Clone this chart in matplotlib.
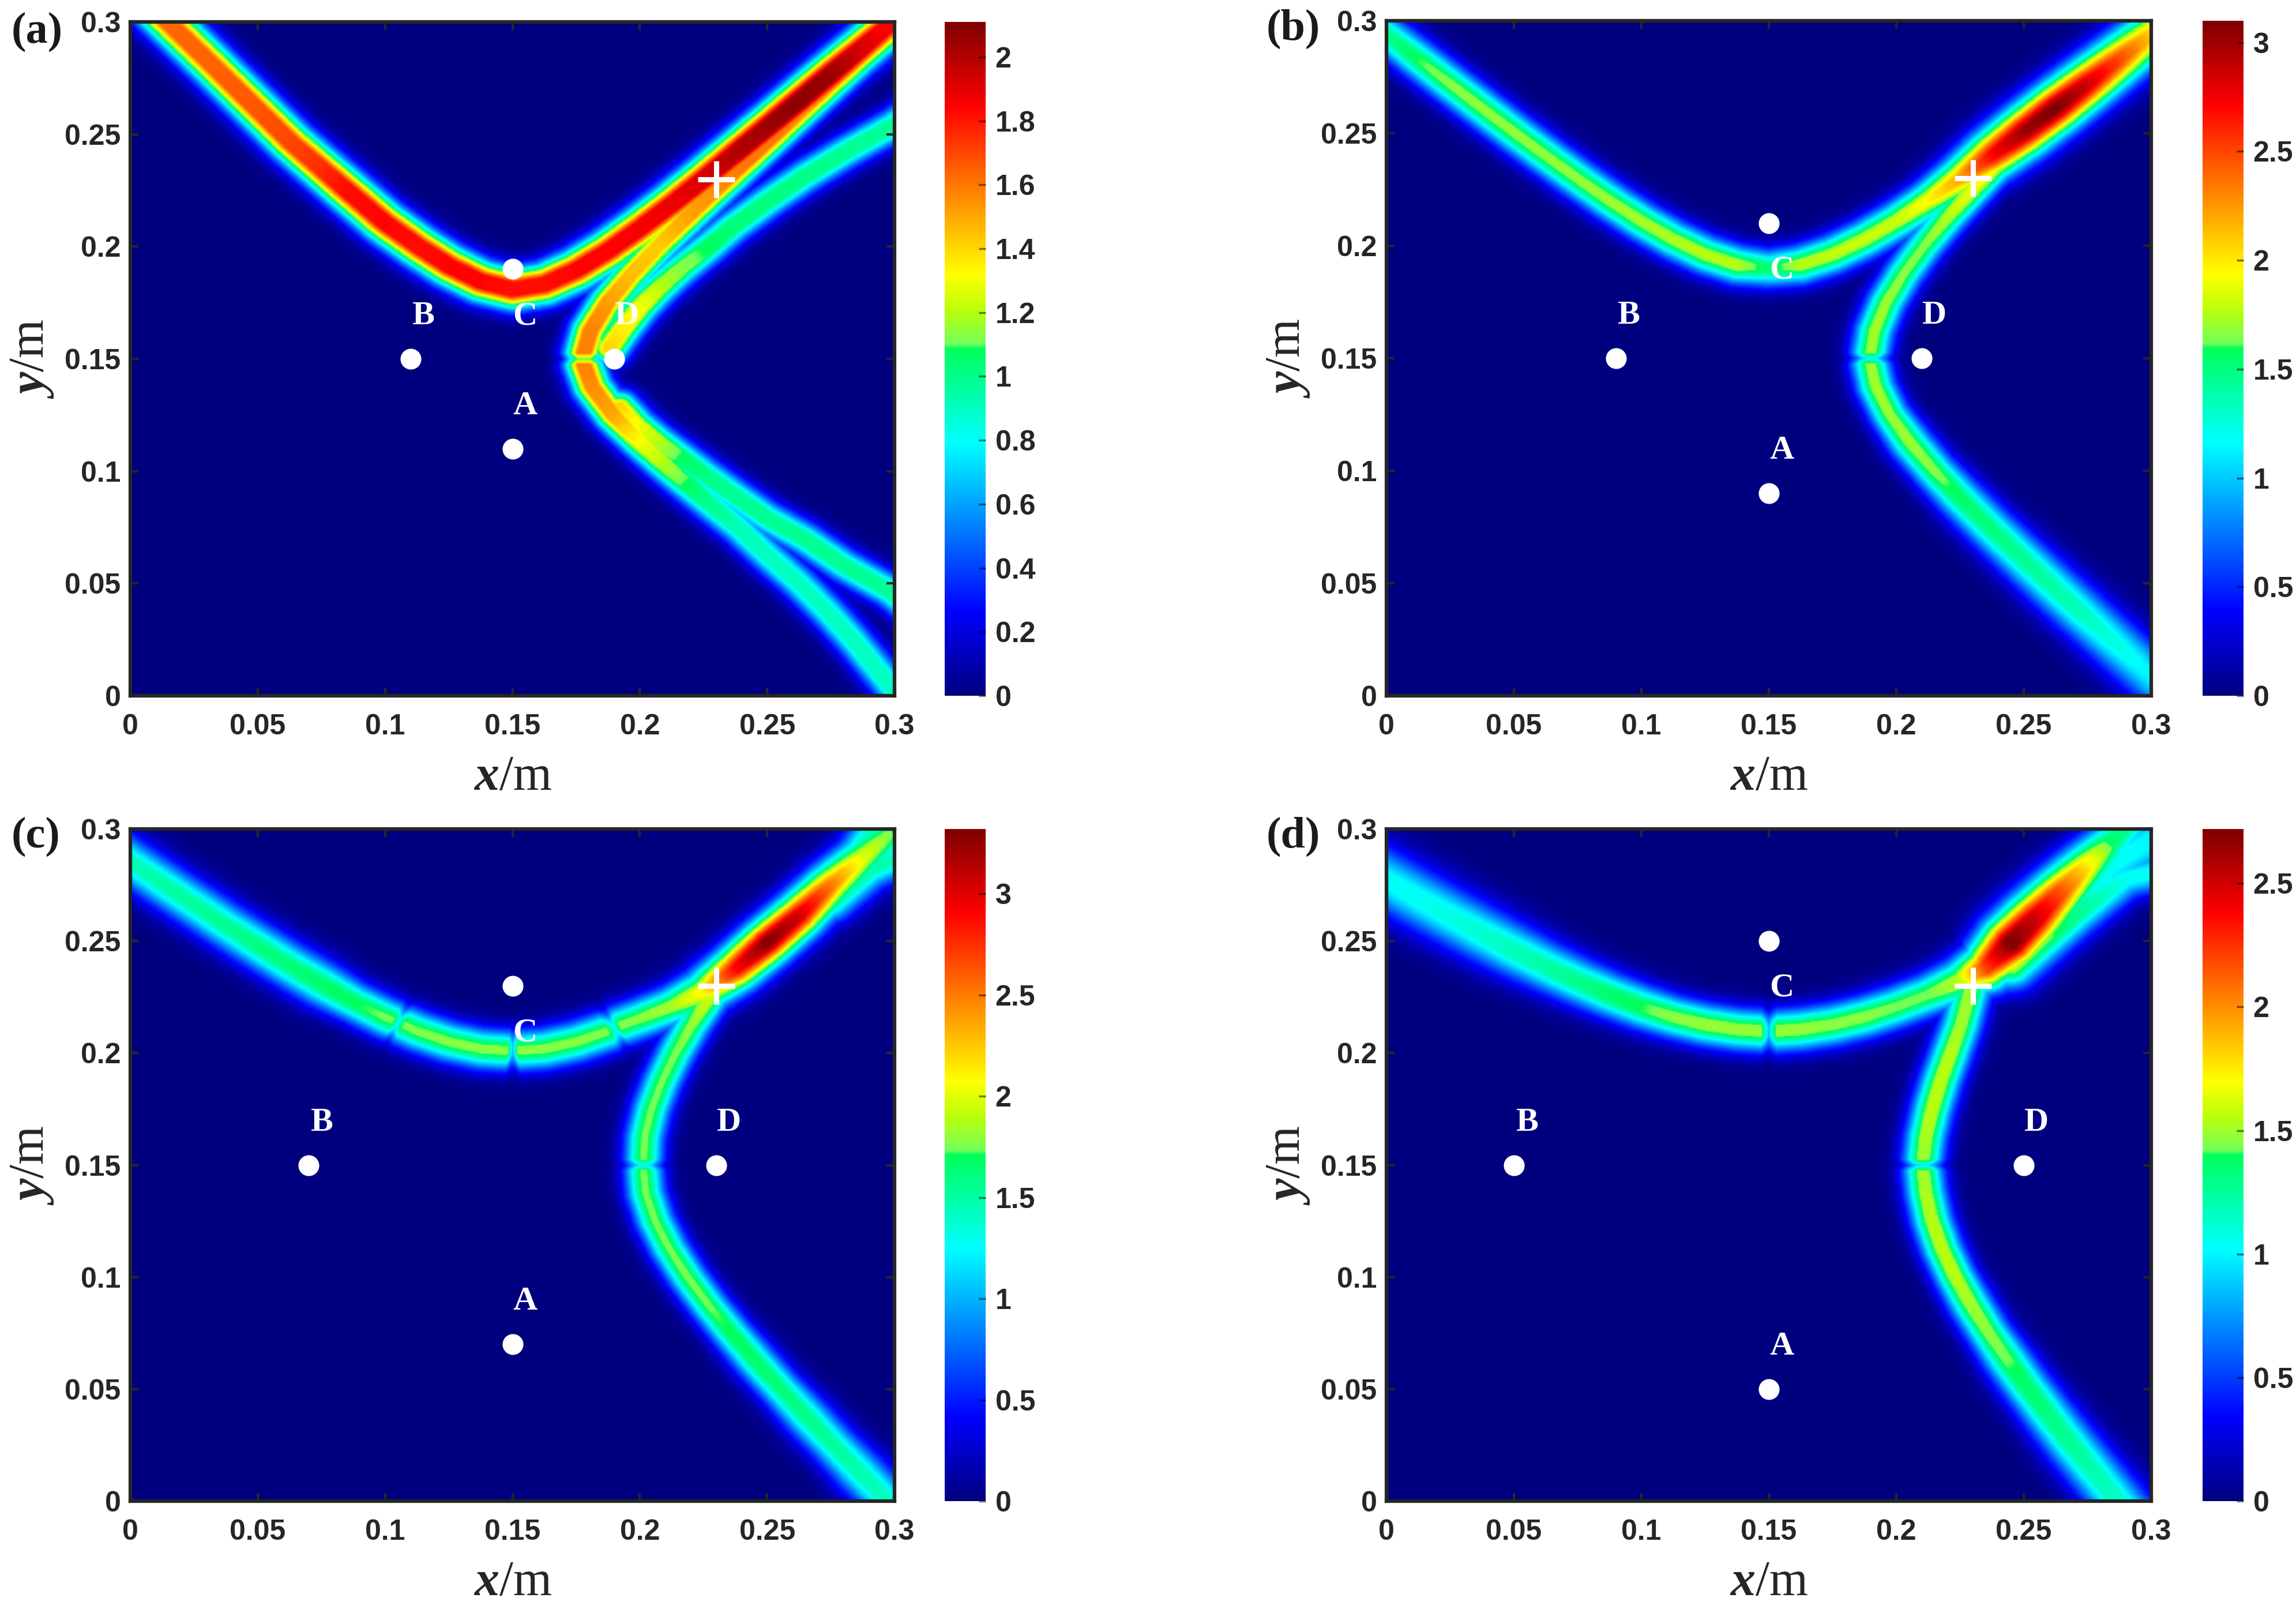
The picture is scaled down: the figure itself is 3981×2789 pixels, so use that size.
import numpy as np
import matplotlib
matplotlib.use('Agg')
import matplotlib.pyplot as plt
from matplotlib.colors import LinearSegmentedColormap

plt.rcParams['font.family'] = ['Liberation Sans', 'DejaVu Sans']
plt.rcParams['mathtext.fontset'] = 'custom'
plt.rcParams['mathtext.bfit'] = 'Liberation Serif:italic:bold'
plt.rcParams['mathtext.rm'] = 'Liberation Serif'

# ridge lines: x, y, peak value and band half width
# panel (a)
a_main_x = [.005, .0147, .03, .045, .0627, .0725, .0845, .0996, .1132, .125, .1375, .15, .1625, .175, .1875, .2, .2125, .225, .2375, .25, .2625, .275, .2875, .3, .31]
a_main_y = [.311, .3, .2832, .2665, .2468, .2372, .2255, .2109, .2, .1915, .1845, .181, .1833, .1896, .1982, .2082, .2189, .2301, .2416, .2532, .265, .277, .2889, .3009, .3105]
a_main_v = [1.63, 1.63, 1.64, 1.66, 1.7, 1.74, 1.82, 1.84, 1.82, 1.84, 1.84, 1.82, 1.82, 1.84, 1.84, 1.86, 1.88, 1.92, 2.0, 2.04, 2.08, 2.05, 1.92, 1.82, 1.82]
a_vert_x = [.31, .3012, .289, .2768, .2648, .2529, .241, .2293, .2179, .2068, .1965, .1873, .1805, .178, .178, .178, .1812, .1895, .2004, .2125, .2252, .2384, .25, .2625, .2735, .2835, .2925, .3015, .308]
a_vert_y = [.31, .3, .2875, .275, .2625, .25, .2375, .225, .2125, .2, .1875, .175, .1625, .1525, .15, .1475, .1375, .125, .1125, .1, .0875, .075, .0625, .05, .0375, .025, .0125, 0, -.01]
a_vert_v = [1.5, 1.5, 1.5, 1.55, 1.55, 1.6, 1.6, 1.55, 1.5, 1.42, 1.45, 1.52, 1.58, 1.58, 1.1, 1.58, 1.55, 1.5, 1.3, 1.15, 1.0, .92, .9, .9, .9, .9, .9, .9, .9]
a_up_x = [.31, .2995, .282, .265, .25, .236, .226, .216, .208, .2, .193, .188]
a_up_y = [.262, .254, .243, .2315, .22, .2085, .199, .19, .182, .173, .163, .155]
a_up_v = [.98, .98, .98, 1.0, 1.02, 1.03, 1.08, 1.13, 1.2, 1.3, 1.35, 1.4]
a_low_x = [.31, .298, .28, .265, .25, .236, .226, .216, .207, .199, .192]
a_low_y = [.036, .0466, .058, .0695, .079, .09, .098, .106, .113, .12, .128]
a_low_v = [.98, .98, .98, .98, .98, .98, 1.0, 1.08, 1.2, 1.3, 1.4]

# panel (b)
b_main_x = [-.015, 0, .0125, .025, .0375, .05, .0625, .075, .0875, .1, .1125, .125, .1375, .15, .1625, .175, .1875, .2, .2125, .225, .2375, .25, .2625, .275, .2875, .3, .315]
b_main_y = [.3073, .294, .2829, .272, .2612, .2505, .2401, .2299, .2201, .211, .2029, .1962, .1916, .19, .1916, .1962, .2029, .211, .2201, .2299, .2401, .2505, .2612, .272, .2829, .294, .3073]
b_main_v = [1.4, 1.45, 1.6, 1.66, 1.68, 1.68, 1.68, 1.68, 1.7, 1.72, 1.74, 1.76, 1.76, 1.5, 1.76, 1.78, 1.8, 1.8, 1.95, 2.2, 2.7, 3.0, 3.1, 2.85, 2.5, 2.1, 2.0]
b_main_s = [.0055] * 19 + [.0062, .007, .0072, .0072, .0072, .0072, .0072, .0072]
b_vert_x = [.2401, .2299, .2201, .211, .2029, .1962, .1916, .19, .19, .19, .192, .1975, .2055, .215, .2255, .2366, .2482, .26, .272, .2842, .2965, .3088]
b_vert_y = [.2375, .225, .2125, .2, .1875, .175, .1625, .1525, .15, .1475, .1375, .125, .1125, .1, .0875, .075, .0625, .05, .0375, .025, .0125, 0]
b_vert_v = [2.0, 1.9, 1.75, 1.65, 1.66, 1.7, 1.72, 1.7, 1.15, 1.7, 1.72, 1.7, 1.7, 1.66, 1.55, 1.5, 1.45, 1.4, 1.35, 1.25, 1.15, 1.1]
b_vert_s = [.005] * 12 + [.0055, .0055, .006, .0062, .0065, .0068, .007, .0072, .0075, .0075]

# panel (c)
c_main_x = [-.015, 0, .0125, .025, .0375, .05, .0625, .075, .0875, .1, .103, .105, .107, .1125, .125, .1375, .148, .15, .152, .1625, .175, .1875, .19, .192, .2, .2125, .225, .2375, .25, .2625, .275, .2875, .3]
c_main_y = [.2972, .2855, .2758, .2664, .257, .248, .2392, .2309, .223, .216, .2146, .2137, .2127, .2099, .2051, .202, .2012, .201, .2012, .202, .2051, .2099, .2112, .2122, .2155, .221, .2275, .2375, .2495, .2615, .2752, .2875, .3]
c_main_v = [1.4, 1.45, 1.5, 1.52, 1.55, 1.6, 1.62, 1.66, 1.7, 1.74, 1.74, 1.25, 1.74, 1.76, 1.78, 1.78, 1.78, 1.0, 1.78, 1.78, 1.78, 1.76, 1.25, 1.76, 1.78, 1.85, 2.1, 2.9, 3.3, 3.05, 2.5, 2.0, 1.7]
c_main_s = [.0065] * 8 + [.0058] * 18 + [.0065] * 7
c_vert_x = [.2305, .2273, .2203, .214, .2087, .2045, .2019, .2015, .2015, .2015, .2023, .206, .2116, .2187, .2269, .2359, .2454, .2554, .2656, .276, .2866, .2974, .3061]
c_vert_y = [.23, .225, .2125, .2, .1875, .175, .1625, .1525, .15, .1475, .1375, .125, .1125, .1, .0875, .075, .0625, .05, .0375, .025, .0125, 0, -.01]
c_vert_v = [2.1, 1.95, 1.8, 1.75, 1.74, 1.74, 1.74, 1.74, 1.2, 1.74, 1.74, 1.74, 1.74, 1.75, 1.74, 1.7, 1.66, 1.62, 1.58, 1.52, 1.48, 1.42, 1.4]
c_vert_s = [.005] * 15 + [.0052, .0055, .0055, .006, .006, .0065, .0065, .0065]
c_top_x = [.275, .285, .292, .296]
c_top_y = [.275, .287, .3, .31]
c_top_v = [1.9, 1.6, 1.4, 1.4]
c_side_x = [.275, .29, .31]
c_side_y = [.268, .282, .292]
c_side_v = [1.6, 1.5, 1.4]

# panel (d)
d_main_x = [-.015, 0, .0125, .025, .0375, .05, .0625, .075, .0875, .1, .1125, .125, .1375, .147, .15, .153, .1625, .175, .1875, .2, .2125, .225, .235, .245, .255, .265, .275, .285, .295]
d_main_y = [.2873, .2773, .2691, .2611, .2534, .2459, .2388, .2322, .2261, .2207, .2162, .2128, .2107, .21, .21, .21, .2107, .2128, .2162, .2207, .2261, .2322, .238, .249, .2605, .2725, .284, .295, .307]
d_main_v = [1.0, 1.03, 1.05, 1.08, 1.12, 1.18, 1.22, 1.28, 1.35, 1.4, 1.46, 1.48, 1.48, 1.48, .85, 1.48, 1.48, 1.46, 1.46, 1.42, 1.42, 1.55, 2.2, 2.72, 2.5, 2.15, 1.75, 1.35, 1.2]
d_main_s = [.0085, .0085, .0085, .0083, .0081, .0077, .0072, .0068, .0065, .0063] + [.006] * 11 + [.0065, .007, .008, .008, .0075, .007, .0065, .006]
d_vert_x = [.2296, .2255, .2215, .2175, .2142, .2117, .2107, .2107, .2107, .2117, .2142, .2181, .2233, .2295, .2364, .244, .252, .2604, .269, .278, .287, .2944]
d_vert_y = [.23, .2125, .2, .1875, .175, .1625, .1525, .15, .1475, .1375, .125, .1125, .1, .0875, .075, .0625, .05, .0375, .025, .0125, 0, -.01]
d_vert_v = [1.5, 1.5, 1.54, 1.55, 1.55, 1.52, 1.5, .95, 1.5, 1.52, 1.54, 1.55, 1.55, 1.5, 1.46, 1.42, 1.35, 1.3, 1.25, 1.2, 1.15, 1.15]
d_vert_s = [.0052] * 13 + [.0055, .0055, .006, .0062, .0065, .0068, .007, .0072, .0072]
d_side_x = [.245, .27, .29, .31]
d_side_y = [.24, .262, .278, .283]
d_side_v = [1.6, 1.3, 1.05, 1.0]
d_side_s = [.0072, .0065, .006, .006]
d_fill_x = [.27, .285, .3, .31]
d_fill_y = [.27, .285, .295, .3]
d_fill_v = [1.1, 1.05, 1.0, 1.0]

# sensors A B C D for every panel
a_dots_x, a_dots_y = [0.15, 0.11, 0.15, 0.19], [0.11, 0.15, 0.19, 0.15]
b_dots_x, b_dots_y = [0.15, 0.09, 0.15, 0.21], [0.09, 0.15, 0.21, 0.15]
c_dots_x, c_dots_y = [0.15, 0.07, 0.15, 0.23], [0.07, 0.15, 0.23, 0.15]
d_dots_x, d_dots_y = [0.15, 0.05, 0.15, 0.25], [0.05, 0.15, 0.25, 0.15]
dot_names = ['A', 'B', 'C', 'D']
source_x, source_y = 0.23, 0.23

tick_vals = [0, 0.05, 0.1, 0.15, 0.2, 0.25, 0.3]
tick_text = ['0', '0.05', '0.1', '0.15', '0.2', '0.25', '0.3']
a_cticks = [0, 0.2, 0.4, 0.6, 0.8, 1, 1.2, 1.4, 1.6, 1.8, 2]
a_ctext = ['0', '0.2', '0.4', '0.6', '0.8', '1', '1.2', '1.4', '1.6', '1.8', '2']
b_cticks = [0, 0.5, 1, 1.5, 2, 2.5, 3]
b_ctext = ['0', '0.5', '1', '1.5', '2', '2.5', '3']
d_cticks = [0, 0.5, 1, 1.5, 2, 2.5]
d_ctext = ['0', '0.5', '1', '1.5', '2', '2.5']
vmax_list = [2.11, 3.1, 3.32, 2.72]

# jet with the step in the green that the reference colorbars show
ref_jet = LinearSegmentedColormap.from_list('ref_jet', [
    (0, (0, 0, .5)), (.125, (0, 0, 1)), (.375, (0, 1, 1)), (.515, (0, 1, .35)),
    (.522, (.45, 1, .35)), (.57, (.72, 1, .05)), (.625, (1, 1, 0)), (.875, (1, 0, 0)), (1, (.5, 0, 0))], N=512)


def band(gx, gy, xs, ys, vs, ss, gain, widen):
    # value of one ridge line on the grid, nearest point on the polyline decides
    xs, ys, vs = np.array(xs), np.array(ys), np.array(vs)
    ss = np.broadcast_to(np.array(ss), xs.shape) * widen
    best = np.full(gx.shape, np.inf)
    val = np.zeros(gx.shape)
    sig = np.ones(gx.shape)
    for i in range(len(xs) - 1):
        dx, dy = xs[i + 1] - xs[i], ys[i + 1] - ys[i]
        t = ((gx - xs[i]) * dx + (gy - ys[i]) * dy) / (dx * dx + dy * dy)
        t = np.clip(t, 0, 1)
        d2 = (gx - xs[i] - t * dx) ** 2 + (gy - ys[i] - t * dy) ** 2
        near = d2 < best
        best[near] = d2[near]
        val[near] = (vs[i] + t * (vs[i + 1] - vs[i]))[near]
        sig[near] = (ss[i] + t * (ss[i + 1] - ss[i]))[near]
    # gain above 1 gives the flat top of panel (a)
    return val * np.minimum(1, gain * np.exp(-best / (2 * sig ** 2)))


def field(ridges, gain, widen):
    g = np.linspace(0, 0.3, 601)
    gx, gy = np.meshgrid(g, g)
    z = np.zeros(gx.shape)
    for r in ridges:
        z = np.maximum(z, band(gx, gy, *r, gain, widen))
    return z


panels = [
    {'tag': '(a)', 'rect': (226, 38, 1551, 1206), 'cbar': (1638, 1709), 'tagpos': (20, 55), 'gain': 1.12, 'widen': 1.03,
     'ridges': [(a_main_x, a_main_y, a_main_v, .0058), (a_vert_x, a_vert_y, a_vert_v, .005),
                (a_up_x, a_up_y, a_up_v, .005), (a_low_x, a_low_y, a_low_v, .005)],
     'dots': (a_dots_x, a_dots_y), 'cticks': a_cticks, 'ctext': a_ctext},
    {'tag': '(b)', 'rect': (2404, 36, 3730, 1206), 'cbar': (3819, 3890), 'tagpos': (2196, 50), 'gain': 1.02, 'widen': 1.08,
     'ridges': [(b_main_x, b_main_y, b_main_v, b_main_s), (b_vert_x, b_vert_y, b_vert_v, b_vert_s)],
     'dots': (b_dots_x, b_dots_y), 'cticks': b_cticks, 'ctext': b_ctext},
    {'tag': '(c)', 'rect': (226, 1437, 1551, 2602), 'cbar': (1638, 1709), 'tagpos': (20, 1450), 'gain': 1.02, 'widen': 1.08,
     'ridges': [(c_main_x, c_main_y, c_main_v, c_main_s), (c_vert_x, c_vert_y, c_vert_v, c_vert_s),
                (c_top_x, c_top_y, c_top_v, .006), (c_side_x, c_side_y, c_side_v, .006)],
     'dots': (c_dots_x, c_dots_y), 'cticks': b_cticks, 'ctext': b_ctext},
    {'tag': '(d)', 'rect': (2404, 1437, 3730, 2602), 'cbar': (3819, 3890), 'tagpos': (2196, 1450), 'gain': 1.04, 'widen': 1.08,
     'ridges': [(d_main_x, d_main_y, d_main_v, d_main_s), (d_vert_x, d_vert_y, d_vert_v, d_vert_s),
                (d_side_x, d_side_y, d_side_v, d_side_s), (d_fill_x, d_fill_y, d_fill_v, .0085)],
     'dots': (d_dots_x, d_dots_y), 'cticks': d_cticks, 'ctext': d_ctext},
]

W, H = 3981, 2789
fig = plt.figure(figsize=(W / 100, H / 100), dpi=100)
frame_color = '#262626'

for p, vmax in zip(panels, vmax_list):
    x0, y0, x1, y1 = p['rect']
    ax = fig.add_axes([x0 / W, 1 - y1 / H, (x1 - x0) / W, (y1 - y0) / H])
    im = ax.imshow(field(p['ridges'], p['gain'], p['widen']), origin='lower', extent=[0, 0.3, 0, 0.3],
                   aspect='auto', cmap=ref_jet, vmin=0, vmax=vmax, interpolation='bilinear')
    ax.set_xlim(0, 0.3)
    ax.set_ylim(0, 0.3)
    ax.set_xticks(tick_vals, tick_text)
    ax.set_yticks(tick_vals, tick_text)
    ax.tick_params(axis='both', direction='in', top=True, right=True, length=10, width=3,
                   color=frame_color, labelcolor=frame_color, labelsize=36)
    ax.tick_params(axis='x', pad=22)
    ax.tick_params(axis='y', pad=12)
    for lab in ax.get_xticklabels() + ax.get_yticklabels():
        lab.set_fontweight('bold')
    for sp in ax.spines.values():
        sp.set_linewidth(4.5)
        sp.set_color(frame_color)
    ax.set_xlabel(r'$\mathbfit{x}$/m', fontsize=62, family='Liberation Serif', color=frame_color, va='center')
    ax.set_ylabel(r'$\mathbfit{y}$/m', fontsize=62, family='Liberation Serif', color=frame_color, va='center')
    ax.xaxis.set_label_coords(0.5, -0.122)
    ax.yaxis.set_label_coords(-0.128, 0.5)

    dx, dy = p['dots']
    ax.plot(dx, dy, 'o', color='white', ms=26, mec='none', clip_on=False)
    ax.plot(source_x, source_y, '+', color='white', ms=46, mew=6.5)
    for name, px, py in zip(dot_names, dx, dy):
        shift = -0.021 if name == 'C' else 0.019
        ax.text(px + 0.005, py + shift, name, color='white', fontsize=42, fontweight='bold',
                family='Liberation Serif', ha='center', va='center')

    cax = fig.add_axes([p['cbar'][0] / W, 1 - y1 / H, (p['cbar'][1] - p['cbar'][0]) / W, (y1 - y0) / H])
    cb = fig.colorbar(im, cax=cax, ticks=p['cticks'])
    cb.set_ticklabels(p['ctext'])
    cb.outline.set_visible(False)
    cax.tick_params(direction='in', length=9, width=2.5, color=(0, 0, 0, 0.5), labelsize=36,
                    labelcolor=frame_color, pad=12)
    for lab in cax.get_yticklabels():
        lab.set_fontweight('bold')

    fig.text(p['tagpos'][0] / W, 1 - p['tagpos'][1] / H, p['tag'], fontsize=55, fontweight='bold',
             family='Liberation Serif', color='#1a1a1a', ha='left', va='center')

fig.savefig('out.png', dpi=100)
